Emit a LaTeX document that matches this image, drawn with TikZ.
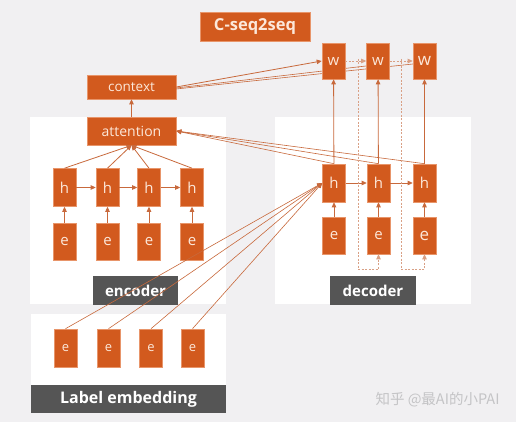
\documentclass[tikz,border=0pt]{standalone}
\usepackage{fontspec}
\setmainfont{Open Sans}
\newfontfamily\cjk{Noto Sans CJK SC}
\usetikzlibrary{arrows.meta}
\definecolor{bg}{HTML}{F1F0F2}
\definecolor{org}{HTML}{D25A1E}
\definecolor{orgedge}{HTML}{E8956A}
\definecolor{ln}{HTML}{C8693C}
\definecolor{dln}{HTML}{D9A085}
\definecolor{ban}{HTML}{555555}
\definecolor{txt}{HTML}{FCE8DA}
\definecolor{wm}{HTML}{C4C4C6}
\begin{document}
\begin{tikzpicture}[x=1pt,y=-1pt,
  box/.style={fill=org, draw=orgedge, line width=0.6pt, text=txt, inner sep=0pt, font=\fontsize{13}{13}\selectfont},
  cell/.style={box, minimum width=23pt, minimum height=37pt, font=\fontsize{15}{15}\selectfont},
  wide/.style={box, minimum width=89pt},
  banner/.style={fill=ban, text=white, inner sep=0pt, minimum height=29pt, font=\bfseries\fontsize{15}{15}\selectfont},
  panel/.style={fill=white, draw=none},
  conn/.style={draw=ln, line width=0.8pt, -{Triangle[length=5pt,width=4.5pt]}},
  lconn/.style={draw=ln, line width=0.6pt, -{Triangle[length=5pt,width=4.5pt]}},
  thin/.style={draw=ln, line width=0.6pt},
  dconn/.style={draw=dln, line width=0.8pt, dashed, dash pattern=on 2pt off 1.5pt, -{Triangle[length=5pt,width=4.5pt]}}
]
\fill[bg] (0,0) rectangle (516,422);
\useasboundingbox (0,0) rectangle (516,422);
% panels
\fill[panel] (30,117) rectangle (226,304);
\fill[panel] (275,117) rectangle (471,304);
\fill[panel] (31,314) rectangle (226,413);

% title
\node[box, minimum width=110pt, minimum height=29pt, font=\bfseries\fontsize{16.5}{16.5}\selectfont] (title) at (255,26.5) {C-seq2seq};

% encoder/top nodes
\node[wide, minimum height=24pt, font=\fontsize{13.5}{13.5}\selectfont] (ctx) at (131.5,87) {context};
\node[wide, minimum height=28pt, font=\fontsize{14}{14}\selectfont] (att) at (131.5,131) {attention};

% w nodes coordinates
\coordinate (w1c) at (333.5,61);
\coordinate (w2c) at (378,61);
\coordinate (w3c) at (424.5,61);

% context lines to w2, w3 (behind boxes)
\draw[thin] (176,88) -- (366,66);
\draw[thin] (176,89) -- (413,64);

\node[cell, minimum height=36pt] (w1) at (w1c) {w};
\node[cell, minimum height=36pt] (w2) at (w2c) {w};
\node[cell, minimum height=36pt, font=\fontsize{17}{17}\selectfont] (w3) at (w3c) {w};

% encoder cells
\foreach \i/\x in {1/64.5,2/107.5,3/149,4/192}{
  \node[cell, minimum height=38pt] (eh\i) at (\x,187.5) {h};
  \node[cell] (ee\i) at (\x,241.5) {e};
}
% decoder cells
\foreach \i/\x in {1/334,2/378.5,3/424.5}{
  \node[cell, minimum height=38pt] (dh\i) at (\x,183) {h};
}
\node[cell] (de1) at (334,235.5) {e};
\node[cell] (de2) at (378.5,235.5) {e};
\node[cell, font=\fontsize{17}{17}\selectfont] (de3) at (424.5,235.5) {e};
% label embedding cells
\foreach \i/\x in {1/65.5,2/108.5,3/151,4/192.5}{
  \node[cell, minimum height=38pt, font=\fontsize{13}{13}\selectfont] (le\i) at (\x,348) {e};
}

% banners
\node[banner, minimum width=85pt] (encb) at (135.5,290.5) {encoder};
\node[banner, minimum width=86pt] (decb) at (373,290.5) {decoder};
\node[banner, minimum width=195pt, minimum height=28pt, font=\bfseries\fontsize{16}{16}\selectfont] (labb) at (128.5,399) {Label embedding};

% watermark
\node[text=wm, font=\cjk\fontsize{14.5}{14.5}\selectfont, inner sep=0pt] (wmk) at (437.5,400) {知乎 @最AI的小PAI};

% connectors
\draw[conn] (att) -- (ctx);
\draw[conn] (ctx.east) -- (w1.west);
\foreach \i in {1,2,3,4}{
  \draw[conn] (ee\i) -- (eh\i);
  \draw[conn] (eh\i.north) -- (att.south);
  \draw[lconn] (le\i.north) -- (dh1.west);
}
\draw[conn] (eh1) -- (eh2);
\draw[conn] (eh2) -- (eh3);
\draw[conn] (eh3) -- (eh4);
\foreach \i in {1,2,3}{
  \draw[conn] (de\i) -- (dh\i);
  \draw[conn] (dh\i) -- (w\i);
  \draw[lconn] (dh\i.north) -- (att.east);
}
\draw[conn] (dh1) -- (dh2);
\draw[conn] (dh2) -- (dh3);

% dashed feedback
\draw[dconn] (w1) -- (w2);
\draw[dconn] (w2) -- (w3);
\coordinate (f1) at (358,59);
\coordinate (f2) at (401,59);
\draw[dconn] (f1) -- (358,269) -| (de2.south);
\draw[dconn] (f2) -- (401,269) -| (de3.south);
\end{tikzpicture}
\end{document}
